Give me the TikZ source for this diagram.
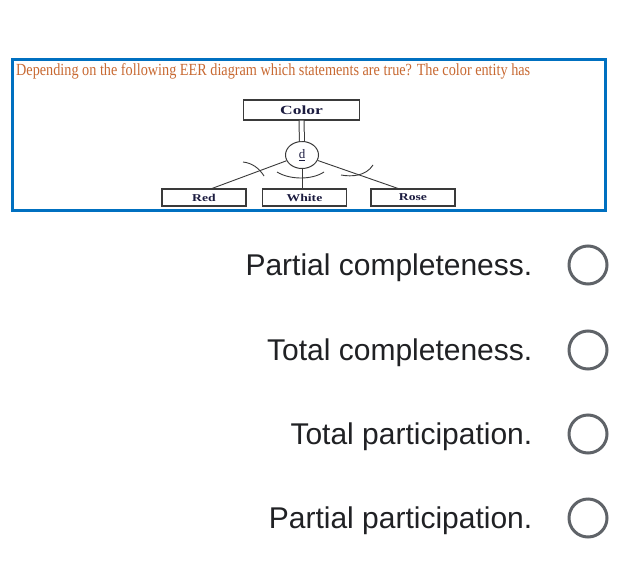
\documentclass[tikz,border=0pt]{standalone}
\usepackage{fontspec}
\usepackage{graphicx}
\setmainfont{Liberation Serif}
\newfontfamily\answerfont{Liberation Sans}
\usetikzlibrary{positioning,shapes.geometric}
\definecolor{qFrame}{RGB}{0,112,192}
\definecolor{qText}{RGB}{200,105,50}
\definecolor{ansText}{HTML}{202124}
\definecolor{ansRadio}{HTML}{5F6368}
\definecolor{eerLine}{HTML}{3A3A3A}
\definecolor{eerText}{HTML}{1C1C40}
\tikzset{
    eerSuper/.style={
        rectangle,
        draw=eerLine,
        line width=1.1pt,
        minimum height=20pt,
        minimum width=116pt,
        inner sep=0pt,
        text=eerText,
        font=\fontsize{12.5}{14}\selectfont\bfseries
    },
    eerSub/.style={eerSuper, minimum height=17pt, minimum width=84pt, font=\fontsize{10.5}{12}\selectfont\bfseries},
    eerDisjoint/.style={ellipse, draw=eerLine, line width=1pt, minimum width=33pt, minimum height=27pt, inner sep=0pt, font=\fontsize{13}{15}\selectfont},
    eerLink/.style={draw=eerLine, line width=0.9pt},
    % subset mark
    eerMark/.style={draw=eerLine, line width=0.9pt},
    % Answers
    ansLabel/.style={font=\answerfont\fontsize{30}{33}\selectfont, text=ansText, inner sep=0pt},
    ansRadio/.style={circle, draw=ansRadio, line width=3pt, minimum size=38pt, inner sep=0pt}
}

\begin{document}
\begin{tikzpicture}[x=1pt, y=-1pt]
    \useasboundingbox[fill=white] (0,0) rectangle (636,575);
    \draw[qFrame, line width=3pt] (12,60) rectangle (605,210);
    \node[anchor=base west, inner sep=0pt, text=qText, font=\fontsize{17}{19}\selectfont] (question) at (16,76)
        {\resizebox{514pt}{\height}{Depending on the following EER diagram which statements are true? The color entity has}};

    \node[eerSuper] (color) at (301.5,110) {\scalebox{1.4}[1]{Color}};
    \node[eerDisjoint] (d) at (302,155) {\textcolor{eerText}{\underline{d}}};
    \node[eerSub] (red) at (204,197.5) {\scalebox{1.3}[1]{Red}};
    \node[eerSub] (white) at (304.5,197.5) {\scalebox{1.3}[1]{White}};
    \node[eerSub] (rose) at (413,197.5) {\scalebox{1.3}[1]{Rose}};

    \draw[eerLine, line width=1pt, double, double distance=4pt] (color) -- (d);
    \draw[eerLink] (d) -- ([xshift=8pt]red.north);
    \draw[eerLink] (d) -- (d |- white.north);
    \draw[eerLink] (d) -- ([xshift=-15pt]rose.north);
    \draw[eerMark] (243,162) .. controls (252,163) and (259,168) .. (264,176);
    \draw[eerMark] (277,172) .. controls (290,180) and (312,180) .. (324,172);
    \draw[eerMark] (341,175) .. controls (352,177) and (366,176) .. (373,165);

    \node[ansRadio] (r1) at (588,265) {};
    \node[ansRadio] (r2) at (588,350) {};
    \node[ansRadio] (r3) at (588,434) {};
    \node[ansRadio] (r4) at (588,518) {};
    \node[ansLabel, left=35pt of r1.west, anchor=base east, yshift=-10pt] (a1) {Partial completeness.};
    \node[ansLabel, left=35pt of r2.west, anchor=base east, yshift=-10pt] (a2) {Total completeness.};
    \node[ansLabel, left=35pt of r3.west, anchor=base east, yshift=-10pt] (a3) {Total participation.};
    \node[ansLabel, left=35pt of r4.west, anchor=base east, yshift=-10pt] (a4) {Partial participation.};
\end{tikzpicture}
\end{document}
